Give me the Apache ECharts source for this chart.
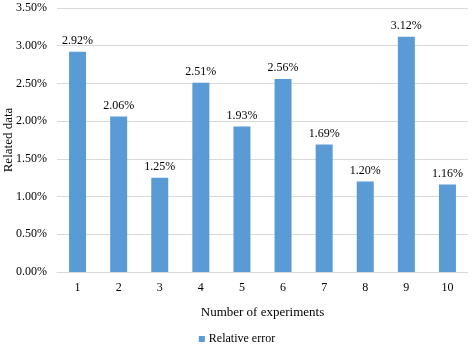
<!DOCTYPE html>
<html>
<head>
<meta charset="utf-8">
<script src="https://cdn.jsdelivr.net/npm/echarts@6/dist/echarts.min.js"></script>
<style>
  html, body { margin: 0; padding: 0; background: #fff; }
  #chart { width: 474px; height: 345px; }
</style>
</head>
<body>
<div id="chart"></div>
<script>
// Experiment numbers and their relative error (percent)
const categories = ['1', '2', '3', '4', '5', '6', '7', '8', '9', '10'];
const relativeError = [2.92, 2.06, 1.25, 2.51, 1.93, 2.56, 1.69, 1.20, 3.12, 1.16];
const seriesName = 'Relative error';

const font = '"Liberation Serif", "Times New Roman", serif';
const chart = echarts.init(document.getElementById('chart'), null, { renderer: 'canvas' });

chart.setOption({
  animation: false,
  textStyle: { fontFamily: font },
  grid: { left: 57, right: 6, top: 8, bottom: 73, containLabel: false, outerBoundsMode: 'none' },
  legend: {
    data: [seriesName],
    top: 328,
    left: 'center',
    itemWidth: 6,
    itemHeight: 6,
    itemGap: 4,
    icon: 'rect',
    textStyle: { fontFamily: font, fontSize: 12, color: '#000', padding: [0, 0, 0, -1] }
  },
  xAxis: {
    type: 'category',
    data: categories,
    name: 'Number of experiments',
    nameLocation: 'middle',
    nameMoveOverlap: false,
    nameGap: 34,
    nameTextStyle: { fontFamily: font, fontSize: 13, color: '#000' },
    axisLine: { lineStyle: { color: '#d9d9d9' } },
    axisTick: { show: false },
    axisLabel: { fontFamily: font, fontSize: 12, color: '#000', margin: 10 }
  },
  yAxis: {
    type: 'value',
    min: 0,
    max: 3.5,
    interval: 0.5,
    name: 'Related data',
    nameLocation: 'middle',
    nameMoveOverlap: false,
    nameGap: 42,
    nameTextStyle: { fontFamily: font, fontSize: 13, color: '#000' },
    axisLine: { show: false },
    axisTick: { show: false },
    axisLabel: {
      fontFamily: font, fontSize: 12, color: '#000', margin: 10,
      formatter: v => v.toFixed(2) + '%'
    },
    splitLine: { lineStyle: { color: '#d9d9d9' } }
  },
  series: [{
    name: seriesName,
    type: 'bar',
    data: relativeError,
    barWidth: 17,
    itemStyle: { color: '#5b9bd5' },
    label: {
      show: true,
      position: 'top',
      distance: 5,
      fontFamily: font,
      fontSize: 12,
      color: '#000',
      formatter: p => p.value.toFixed(2) + '%'
    }
  }]
});
</script>
</body>
</html>
